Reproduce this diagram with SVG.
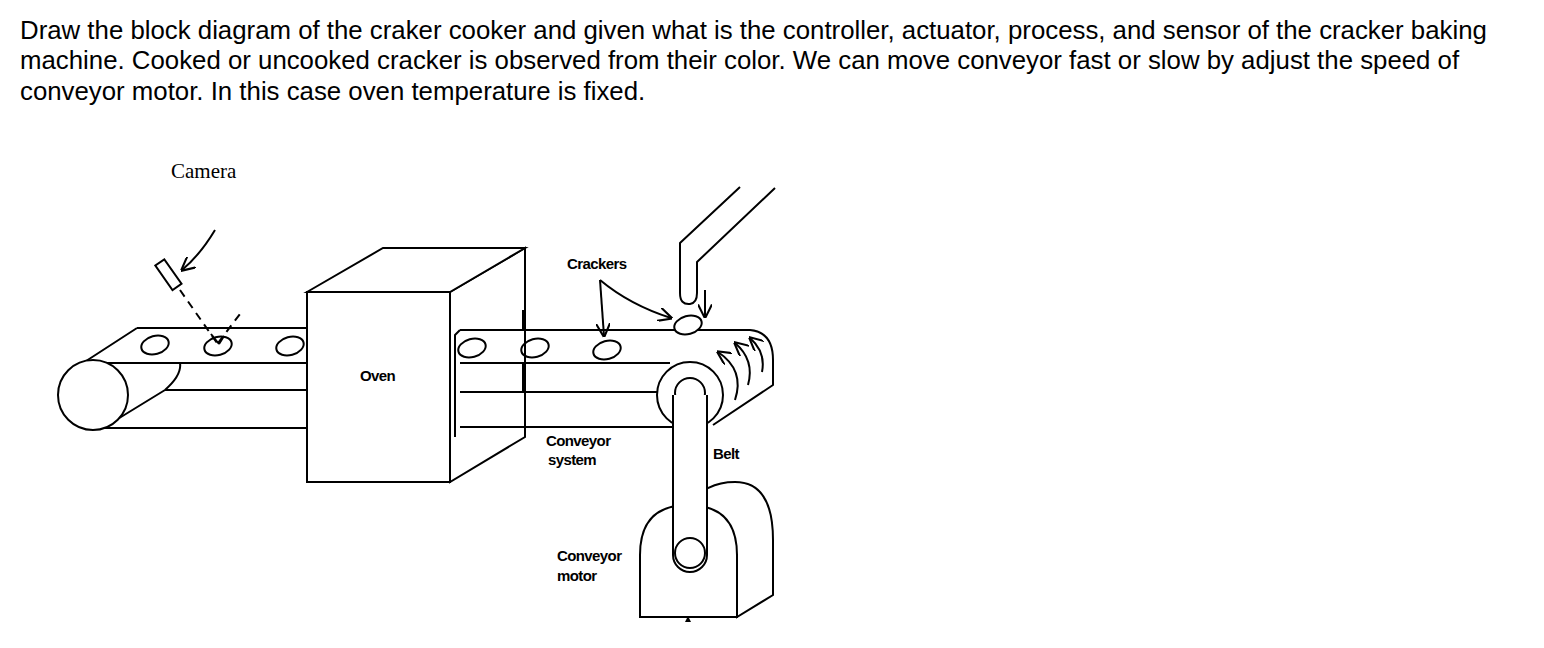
<svg xmlns="http://www.w3.org/2000/svg" width="1544" height="648" viewBox="0 0 1544 648">
<style>
.t{font-family:"Liberation Sans",Arial,sans-serif;font-size:25.8px;fill:#000}
.l{font-family:"Liberation Sans",Arial,sans-serif;font-size:15px;font-weight:bold;fill:#000;letter-spacing:-0.6px}
.s{fill:none;stroke:#000;stroke-width:2;stroke-linejoin:round}
.w{fill:#fff;stroke:#000;stroke-width:2}
</style>
<defs><marker id="a" viewBox="0 0 10 10" refX="9" refY="5" markerWidth="7" markerHeight="7" orient="auto"><path d="M0,0 L10,5 L0,10" fill="none" stroke="#000" stroke-width="1.5"/></marker></defs>
<rect width="1544" height="648" fill="#fff"/>
<text class="t" x="20" y="39">Draw the block diagram of the craker cooker and given what is the controller, actuator, process, and sensor of the cracker baking</text>
<text class="t" x="20" y="69">machine. Cooked or uncooked cracker is observed from their color. We can move conveyor fast or slow by adjust the speed of</text>
<text class="t" x="20" y="100">conveyor motor. In this case oven temperature is fixed.</text>
<text x="171" y="178" style="font-family:'Liberation Serif',serif;font-size:21px">Camera</text>
<g id="left-conveyor">
<path class="s" d="M137,328 H307 M83,363 L137,328 M100,363 H307 M165,390 H307 M103,428 H307 M103,428 L165,390 M165,390 Q182,375 180,363"/>
<circle class="w" cx="93" cy="395" r="35"/>
<ellipse class="s" cx="155" cy="345" rx="14" ry="9" transform="rotate(-15 155 345)"/>
<ellipse class="s" cx="218" cy="346" rx="14" ry="9" transform="rotate(-15 218 346)"/>
<ellipse class="s" cx="290" cy="346" rx="14" ry="9" transform="rotate(-15 290 346)"/>
<path class="s" d="M219,344 L211,334 M219,344 L224,336"/>
</g>
<g id="camera">
<rect class="w" x="163" y="260" width="11" height="30" transform="rotate(-35 168 275)"/>
<path class="s" d="M180,290 L217,343 M218,343 L243,310" stroke-dasharray="8,6"/>
<path class="s" d="M215,230 Q200,255 182,270" marker-end="url(#a)"/>
</g>
<g id="oven">
<path class="w" d="M450,292 L525,248 V437 L450,482 Z"/>
<path class="w" d="M307,292 L383,248 H525 L450,292 Z"/>
<rect class="w" x="307" y="292" width="143" height="190"/>
<text class="l" x="360" y="381">Oven</text>
</g>
<g id="right-conveyor">
<path class="s" d="M460,330 H750 Q773,332 773,360 V385 L713,425 M460,363 H670 M460,392 H657 M460,427 H675 M460,330 L455,335 V437"/>
<path class="s" d="M523,310 V330 M523,363 V392" stroke-width="3"/>
<ellipse class="s" cx="472" cy="348" rx="14" ry="9" transform="rotate(-15 472 348)"/>
<ellipse class="s" cx="535" cy="348" rx="14" ry="9" transform="rotate(-15 535 348)"/>
<ellipse class="s" cx="607" cy="350" rx="14" ry="9" transform="rotate(-15 607 350)"/>
<ellipse class="w" cx="688" cy="325" rx="14" ry="9" transform="rotate(-15 688 325)"/>
<circle class="w" cx="690" cy="395" r="33"/>
<circle class="w" cx="690" cy="393" r="15"/>
<path class="s" d="M735,400 Q745,370 718,352" marker-end="url(#a)"/>
<path class="s" d="M748,385 Q755,360 735,343" marker-end="url(#a)"/>
<path class="s" d="M762,372 Q766,352 750,338" marker-end="url(#a)"/>
<path class="s" d="M740,187 L680,243 V293 Q680,305 690,304 Q697,303 697,293 V262 L775,188"/>
<path class="s" d="M705,290 V317" marker-end="url(#a)"/>
<text class="l" x="567" y="269">Crackers</text>
<path class="s" d="M600,280 L604,336" marker-end="url(#a)"/>
<path class="s" d="M600,280 Q630,305 671,318" marker-end="url(#a)"/>
<text class="l" x="546" y="446">Conveyor</text>
<text class="l" x="548" y="465">system</text>
</g>
<g id="motor">
<path class="w" d="M690,505 Q705,482 735,482 Q773,482 773,540 V595 L737,617 V555 Z"/>
<path class="w" d="M640,555 Q640,505 688,505 Q737,505 737,555 V617 H640 Z"/>
<path class="w" d="M673,395 V555 A17,17 0 0 0 707,555 V395"/>
<circle class="w" cx="690" cy="553" r="15"/>
<path d="M685,622 L688,616 L691,622 Z" fill="#000"/>
<text class="l" x="713" y="459">Belt</text>
<text class="l" x="557" y="561">Conveyor</text>
<text class="l" x="557" y="581">motor</text>
</g>
</svg>
